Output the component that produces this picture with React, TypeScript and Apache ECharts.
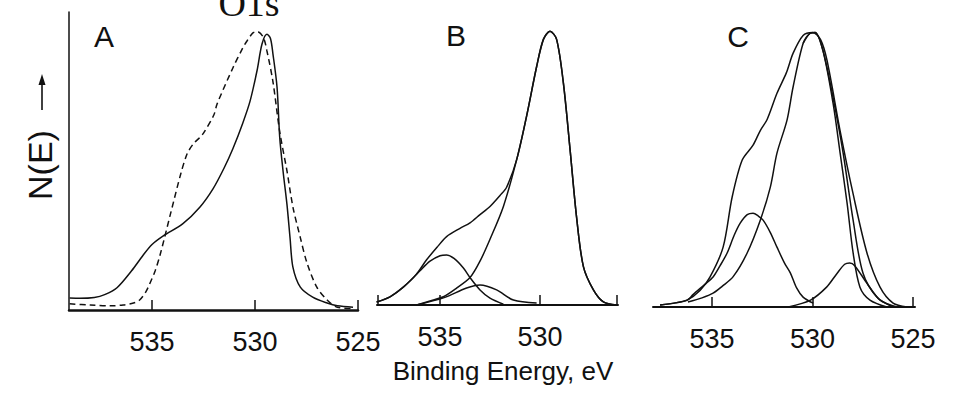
import React, { useEffect, useRef } from "react";
import * as echarts from "echarts";

// ---------- Panel A ----------
const aSolidE = [539.0, 538.5, 537.8, 537.3, 536.7, 536.0, 535.45, 535.0, 534.47, 533.5, 532.67, 532.04, 531.5, 531.07, 530.6, 530.24, 529.9, 529.66, 529.42, 529.25, 529.13, 528.93, 528.8, 528.64, 528.45, 528.3, 528.16, 527.8, 527.2, 526.5, 526.0, 525.24];
const aSolidI = [4.3, 4.2, 4.5, 5.5, 8, 14, 19.5, 23.5, 26.5, 31, 37, 43.5, 51, 58, 67, 75, 86, 95.5, 99, 97.5, 92, 80, 62, 50, 38, 26, 15.4, 8.2, 4.6, 2.5, 1.5, 1];
const aDashE = [539.0, 538.0, 537.0, 536.4, 535.9, 535.6, 535.3, 535.1, 534.85, 534.6, 534.1, 533.6, 533.3, 533.0, 532.67, 532.5, 532.0, 531.84, 531.07, 530.6, 530.39, 530.1, 529.9, 529.6, 529.42, 529.13, 528.8, 528.45, 528.16, 527.8, 527.48, 527.0, 526.5, 526.0, 525.24];
const aDashI = [2.2, 1.8, 1.5, 1.8, 2.5, 3.6, 6.5, 9.6, 14, 20, 34.6, 49, 56, 59.6, 62, 63.5, 70, 74, 87, 94, 96.6, 99.5, 100, 98, 93, 82, 64, 50, 37, 26, 17, 8.2, 3.6, 1, 0.5];

// ---------- Panel B ----------
const bEnvE = [538.17, 537.5, 536.83, 536.2, 535.67, 535.1, 534.67, 534.0, 533.5, 533.0, 532.5, 532.0, 531.67, 531.17, 530.67, 530.17, 529.83, 529.5, 529.17, 528.83, 528.5, 528.17, 527.83, 527.33, 526.83, 526.17];
const bEnvI = [1.1, 3, 6.6, 11, 16.5, 21.5, 25, 28, 30, 33, 36, 40, 43, 53, 69, 87, 97, 100, 97, 81, 57, 32, 14, 5.5, 1.1, 0];
const bMainE = [536.17, 535.5, 534.83, 534.2, 533.5, 533.0, 532.5, 531.83, 531.17, 530.67, 530.17, 529.83, 529.5, 529.17, 528.83, 528.5, 528.17, 527.83, 527.33, 526.83, 526.17];
const bMainI = [0, 1.5, 3, 6, 10, 16, 24, 36, 53, 69, 87, 97, 100, 97, 81, 57, 32, 14, 5.5, 1.1, 0];
const bComp2E = [538.17, 537.5, 536.83, 536.0, 535.5, 535.0, 534.67, 534.3, 533.83, 533.5, 533.0, 532.5, 531.83];
const bComp2I = [1.1, 3, 6.5, 12.5, 16, 18, 18.3, 17, 13.5, 10, 5.5, 2.5, 0.3];
const bComp3E = [536.17, 534.83, 533.67, 533.0, 532.17, 531.33, 530.17];
const bComp3I = [0, 2.6, 6.2, 7.3, 5.5, 1.8, 0.7];

// ---------- Panel C ----------
const cEnvE = [537.59, 536.8, 536.24, 535.6, 535.1, 534.45, 534.0, 533.5, 532.96, 532.6, 532.26, 531.77, 531.3, 530.97, 530.47, 530.0, 529.6, 529.28, 528.63, 527.98, 527.29, 526.64, 525.99, 525.3];
const cEnvI = [0.7, 1.5, 2.5, 6, 10.9, 21.7, 39.9, 53.3, 58.7, 64, 68, 77.5, 85, 92, 98.5, 99.6, 97, 89.5, 64, 41, 19.6, 7.2, 1.4, 0];
const cMainE = [536.2, 535.5, 534.95, 534.5, 533.95, 533.26, 532.6, 532.1, 531.77, 531.27, 530.97, 530.47, 530.12, 529.87, 529.48, 528.98, 528.63, 528.28, 527.98, 527.64, 527.14, 526.3];
const cMainI = [1.8, 3.3, 5, 7.5, 11, 19.5, 31.5, 43.5, 55.8, 67.8, 79.7, 95.6, 99.3, 99.6, 93, 74, 56, 37.7, 19.6, 7.2, 2.5, 0];
const cMidE = [530.47, 530.12, 529.87, 529.48, 528.98, 528.48, 527.98, 527.49, 526.8, 526.0];
const cMidI = [95.6, 99.3, 99.6, 93, 76, 56, 31.5, 12.3, 3.6, 0];
const cComp2E = [537.59, 536.24, 535.95, 535.4, 534.95, 534.6, 534.25, 533.9, 533.6, 533.25, 532.96, 532.7, 532.46, 532.1, 531.77, 531.4, 531.1, 530.8, 530.47, 529.97];
const cComp2I = [0.7, 2.5, 4.5, 8, 10.9, 15, 19.6, 26, 30.4, 33.5, 34, 33, 31.5, 27, 21.7, 16, 12.3, 7, 3.6, 1.4];
const cComp3E = [531.2, 530.1, 529.3, 528.8, 528.4, 528.15, 527.9, 527.3, 526.64, 525.8];
const cComp3I = [0, 2.5, 7.2, 12, 15.5, 16, 15, 8.7, 2.5, 0];

// ---------- Axes ----------
const ticksA = [535, 530, 525];
const labelsA = [535, 530, 525];
const ticksB = [538.1, 535, 530, 526.15];
const labelsB = [535, 530];
const ticksC = [535, 530, 525];
const labelsC = [535, 530, 525];
const panelNames = ["A", "B", "C"];
const xTitle = "Binding Energy, eV";
const yTitle = "N(E)";
const topTitle = "O1s";

const zip = (e: number[], v: number[]) => e.map((x, i) => [x, v[i]]);

const INK = "#111";

function mkX(gi: number, min: number, max: number, ticks: number[], labels: number[], lw: number) {
  return {
    type: "value",
    gridIndex: gi,
    min,
    max,
    inverse: true,
    axisLine: { show: true, onZero: false, lineStyle: { color: INK, width: lw } },
    axisTick: { show: true, inside: true, length: 10, customValues: ticks, lineStyle: { color: INK, width: 1.5 } },
    axisLabel: { show: true, customValues: labels, margin: 18, fontSize: 27, color: INK, fontFamily: "Liberation Sans" },
    splitLine: { show: false },
  };
}

function mkY(gi: number, showLine: boolean) {
  return {
    type: "value",
    gridIndex: gi,
    min: 0,
    max: 107,
    axisLine: { show: showLine, lineStyle: { color: INK, width: 1.5 } },
    axisTick: { show: false },
    axisLabel: { show: false },
    splitLine: { show: false },
  };
}

function line(gi: number, e: number[], v: number[], dashed = false) {
  return {
    type: "line",
    xAxisIndex: gi,
    yAxisIndex: gi,
    data: zip(e, v),
    showSymbol: false,
    smooth: 0.3,
    silent: true,
    lineStyle: { color: INK, width: 1.5, type: dashed ? [6, 4] : "solid" },
  };
}

export default function App() {
  const ref = useRef<HTMLDivElement>(null);
  useEffect(() => {
    const chart = echarts.init(ref.current!, null, { renderer: "svg" });
    const option: any = {
      animation: false,
      backgroundColor: "#fff",
      grid: [
        { left: 69, top: 12, width: 289, height: 298, outerBoundsMode: "none" },
        { left: 377, top: 12, width: 241, height: 293, outerBoundsMode: "none" },
        { left: 653, top: 12, width: 262, height: 295, outerBoundsMode: "none" },
      ],
      xAxis: [
        mkX(0, 525, 539.03, ticksA, labelsA, 2.5),
        mkX(1, 526.1, 538.15, ticksB, labelsB, 2),
        mkX(2, 524.9, 537.94, ticksC, labelsC, 2),
      ],
      yAxis: [mkY(0, true), mkY(1, false), mkY(2, false)],
      series: [
        line(0, aSolidE, aSolidI),
        line(0, aDashE, aDashI, true),
        line(1, bEnvE, bEnvI),
        line(1, bMainE, bMainI),
        line(1, bComp2E, bComp2I),
        line(1, bComp3E, bComp3I),
        line(2, cEnvE, cEnvI),
        line(2, cMainE, cMainI),
        line(2, cMidE, cMidI),
        line(2, cComp2E, cComp2I),
        line(2, cComp3E, cComp3I),
      ],
      graphic: [
        { type: "text", x: 249, y: 3, style: { text: topTitle, font: "38px 'Liberation Serif'", fill: INK, align: "center", verticalAlign: "middle" } },
        { type: "text", x: 104, y: 36, style: { text: panelNames[0], font: "30px 'Liberation Sans'", fill: INK, align: "center", verticalAlign: "middle" } },
        { type: "text", x: 456, y: 35, style: { text: panelNames[1], font: "30px 'Liberation Sans'", fill: INK, align: "center", verticalAlign: "middle" } },
        { type: "text", x: 738, y: 36, style: { text: panelNames[2], font: "30px 'Liberation Sans'", fill: INK, align: "center", verticalAlign: "middle" } },
        { type: "text", x: 40, y: 165, rotation: Math.PI / 2, style: { text: yTitle, font: "34px 'Liberation Sans'", fill: INK, align: "center", verticalAlign: "middle" } },
        { type: "line", shape: { x1: 42, y1: 110, x2: 42, y2: 82 }, style: { stroke: INK, lineWidth: 1.6 } },
        { type: "polygon", shape: { points: [[42, 74], [38.5, 85], [45.5, 85]] }, style: { fill: INK } },
        { type: "text", x: 503, y: 371, style: { text: xTitle, font: "26px 'Liberation Sans'", fill: INK, align: "center", verticalAlign: "middle" } },
      ],
    };
    chart.setOption(option);
    return () => chart.dispose();
  }, []);
  return <div ref={ref} style={{ position: "fixed", left: 0, top: 0, width: 965, height: 405, background: "#fff" }} />;
}
